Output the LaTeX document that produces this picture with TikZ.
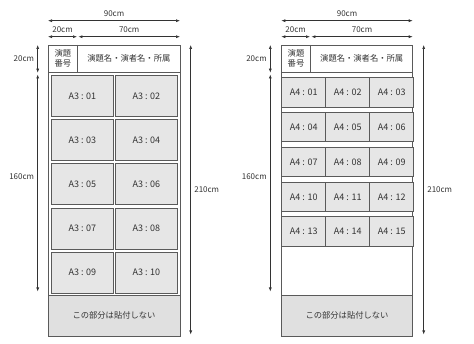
\documentclass[tikz,border=0pt]{standalone}
\usepackage{fontspec}
\setmainfont{Noto Sans CJK JP}
\usetikzlibrary{arrows.meta}

\definecolor{LineGray}{HTML}{5A5A5A}
\definecolor{TextGray}{HTML}{333333}
\definecolor{CellFill}{HTML}{E6E6E6}
\definecolor{BandFill}{HTML}{E0E0E0}

\tikzset{
  board/.style={draw=LineGray, line width=0.8pt},
  cellbox/.style={draw=LineGray, fill=CellFill, line width=0.8pt, anchor=north west,
    inner sep=0pt, text=TextGray, font=\fontsize{9}{10}\selectfont},
  dimarrow/.style={draw=TextGray, line width=0.6pt,
    {Latex[length=4pt,width=3pt]}-{Latex[length=4pt,width=3pt]}},
  dimlabel/.style={text=TextGray, font=\fontsize{8}{9}\selectfont},
  hdrlabel/.style={text=TextGray, font=\fontsize{8.3}{10}\selectfont, align=center}
}

\begin{document}
\begin{tikzpicture}[x=1pt,y=-1pt]
  \useasboundingbox (0,0) rectangle (474,344);

  %–– Geometría de los tableros ––
  \def\boardTop{45}
  \def\hdrBottom{72.7}
  \def\bandTop{295}
  \def\boardBottom{336.7}

  %–– Tablero A3 (izquierda) ––
  \def\leftA{48}
  \def\divA{77.7}
  \def\rightA{180}

  \filldraw[board, fill=white] (\leftA,\boardTop) rectangle (\rightA,\boardBottom);
  \draw[board] (\leftA,\hdrBottom) -- (\rightA,\hdrBottom);
  \draw[board] (\divA,\boardTop) -- (\divA,\hdrBottom);
  \filldraw[board, fill=BandFill] (\leftA,\bandTop) rectangle (\rightA,\boardBottom);

  \node[hdrlabel] (numA) at ({(\leftA+\divA)/2},{(\boardTop+\hdrBottom)/2}) {演題\\番号};
  \node[hdrlabel] (titleA) at ({(\divA+\rightA)/2},{(\boardTop+\hdrBottom)/2}) {演題名・演者名・所属};
  \node[hdrlabel] (bandA) at ({(\leftA+\rightA)/2},{(\bandTop+\boardBottom)/2}) {この部分は貼付しない};

  \foreach \r in {0,...,4}{
    \foreach \c in {0,1}{
      \pgfmathtruncatemacro{\n}{2*\r+\c+1}
      \node[cellbox, minimum width=61.4pt, minimum height=41pt]
        (a3-\n) at ({51.3+\c*64},{75.3+\r*44.1}) {A3 : \ifnum\n<10 0\fi\n};
    }
  }

  %–– Tablero A4 (derecha) ––
  \def\leftB{281.3}
  \def\divB{310.7}
  \def\rightB{412.7}

  \filldraw[board, fill=white] (\leftB,\boardTop) rectangle (\rightB,\boardBottom);
  \draw[board] (\leftB,\hdrBottom) -- (\rightB,\hdrBottom);
  \draw[board] (\divB,\boardTop) -- (\divB,\hdrBottom);
  \filldraw[board, fill=BandFill] (\leftB,\bandTop) rectangle (\rightB,\boardBottom);

  \node[hdrlabel] (numB) at ({(\leftB+\divB)/2},{(\boardTop+\hdrBottom)/2}) {演題\\番号};
  \node[hdrlabel] (titleB) at ({(\divB+\rightB)/2},{(\boardTop+\hdrBottom)/2}) {演題名・演者名・所属};
  \node[hdrlabel] (bandB) at ({(\leftB+\rightB)/2},{(\bandTop+\boardBottom)/2}) {この部分は貼付しない};

  \foreach \r in {0,...,4}{
    \foreach \c in {0,1,2}{
      \pgfmathtruncatemacro{\n}{3*\r+\c+1}
      \node[cellbox, minimum width=44pt, minimum height=29.4pt]
        (a4-\n) at ({\leftB+\c*44},{77.3+\r*34.8}) {A4 : \ifnum\n<10 0\fi\n};
    }
  }

  %–– Cotas ––
  \foreach \s/\xl/\xd/\xr/\xv/\xw in {A/48/77.7/180/37.7/190.7, B/281.3/310.7/412.7/270.3/423.7}{
    \coordinate (\s-w1) at (\xl,20.7);
    \coordinate (\s-w2) at (\xr,20.7);
    \coordinate (\s-n1) at (\xl,36.7);
    \coordinate (\s-n2) at ({\xd-0.7},36.7);
    \coordinate (\s-t1) at ({\xd+0.7},36.7);
    \coordinate (\s-t2) at (\xr,36.7);
    \coordinate (\s-h1) at (\xv,45);
    \coordinate (\s-h2) at (\xv,72.7);
    \coordinate (\s-p1) at (\xv,74.5);
    \coordinate (\s-p2) at (\xv,291.5);
    \coordinate (\s-f1) at (\xw,45);
    \coordinate (\s-f2) at (\xw,334.5);

    \draw[dimarrow] (\s-w1) -- node[dimlabel, above] {90cm} (\s-w2);
    \draw[dimarrow] (\s-n1) -- node[dimlabel, above] {20cm} (\s-n2);
    \draw[dimarrow] (\s-t1) -- node[dimlabel, above] {70cm} (\s-t2);
    \draw[dimarrow] (\s-h1) -- node[dimlabel, left] {20cm} (\s-h2);
    \draw[dimarrow] (\s-p1) -- node[dimlabel, left, pos=0.47] {160cm} (\s-p2);
    \draw[dimarrow] (\s-f1) -- node[dimlabel, right, pos=0.5] {210cm} (\s-f2);
  }

\end{tikzpicture}
\end{document}
